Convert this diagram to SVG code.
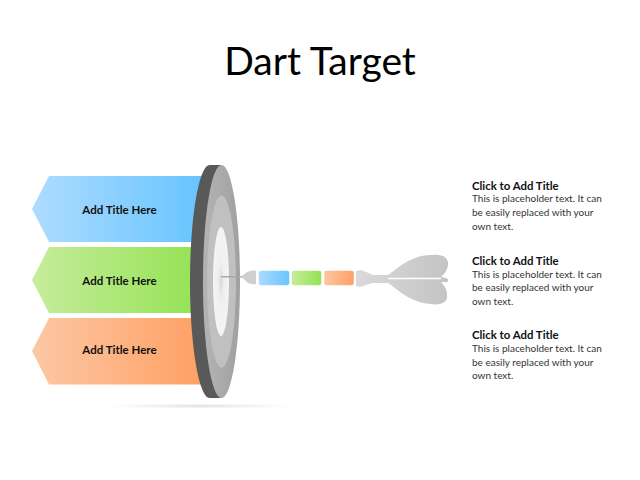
<svg xmlns="http://www.w3.org/2000/svg" width="640" height="480" viewBox="0 0 640 480">
<style>
.t{font-family:"Lato","Liberation Sans",sans-serif}
.title{font-size:39px;fill:#000;text-anchor:middle}
.lab{font-size:11.5px;font-weight:700;fill:#111;text-anchor:middle}
.h{font-size:11.4px;font-weight:700;fill:#111}
.b{font-size:10px;fill:#333}
</style>
<defs>
<linearGradient id="gb"><stop offset="0" stop-color="#aedcff"/><stop offset="1" stop-color="#66c4ff"/></linearGradient>
<linearGradient id="gg"><stop offset="0" stop-color="#c6ec9c"/><stop offset="1" stop-color="#93e252"/></linearGradient>
<linearGradient id="go"><stop offset="0" stop-color="#fcc8a4"/><stop offset="1" stop-color="#ff9f63"/></linearGradient>
<linearGradient id="gf"><stop offset="0" stop-color="#b4b4b4"/><stop offset="1" stop-color="#a0a0a0"/></linearGradient>
<linearGradient id="gs" x1="0" x2="1"><stop offset="0" stop-color="#fff"/><stop offset=".5" stop-color="#e4e4e4"/><stop offset="1" stop-color="#fff"/></linearGradient>
<radialGradient id="gc"><stop offset="0" stop-color="#d8d8d8"/><stop offset=".35" stop-color="#efefef"/><stop offset="1" stop-color="#f4f4f4"/></radialGradient>
<linearGradient id="gd"><stop offset="0" stop-color="#dadada"/><stop offset="1" stop-color="#c4c4c4"/></linearGradient>
</defs>
<text class="t title" x="320" y="75">Dart Target</text>
<g id="shadow"><rect x="110" y="404.500" width="180" height="3" fill="url(#gs)"/></g>
<g id="arrow-blue"><path d="M32 209L49 176H205V242H49Z" fill="url(#gb)"/><text class="t lab" x="119.500" y="213.500">Add Title Here</text></g>
<g id="arrow-green"><path d="M32 280L49 247H205V313H49Z" fill="url(#gg)"/><text class="t lab" x="119.500" y="284.500">Add Title Here</text></g>
<g id="arrow-orange"><path d="M32 351L49 318H205V384.500H49Z" fill="url(#go)"/><text class="t lab" x="119.500" y="354">Add Title Here</text></g>
<g id="target">
<path d="M209.500 165H221.500V398H209.500C199 398 190 346 190 281.500C190 217 199 165 209.500 165Z" fill="#595959"/>
<ellipse cx="221.500" cy="281.500" rx="18.500" ry="116.500" fill="url(#gf)"/>
<ellipse cx="221.500" cy="281.500" rx="14.500" ry="86" fill="#c0c0c0"/>
<ellipse cx="221" cy="281.500" rx="8" ry="54.500" fill="url(#gc)"/>
</g>
<g id="dart">
<path d="M221 276.800H244" stroke="#a8a8a8" stroke-width="1.500" fill="none"/>
<path d="M241 276.800L247 272Q251 270 256 270.500V284Q250 285 247 282Z" fill="#cfcfcf"/>
<rect x="258" y="270" width="32" height="16" rx="3" fill="url(#gb)" stroke="#fff" stroke-width="1.500"/>
<rect x="291" y="270" width="31" height="16" rx="3" fill="url(#gg)" stroke="#fff" stroke-width="1.500"/>
<rect x="323.500" y="270" width="31" height="16" rx="3" fill="url(#go)" stroke="#fff" stroke-width="1.500"/>
<path d="M356 271Q362 269 366 272L373 275H388C398 268 410 256 430 255Q446 253 448 262Q449 270 441 277L446 278Q449 279 448 281Q447 283 444 282L441 282Q448 289 447 298Q445 306 430 304C410 302 398 290 388 283H373L366 285Q361 288 356 286Z" fill="url(#gd)"/>
<path d="M388 278.500H441" stroke="#fff" stroke-width="1.500" fill="none"/>
</g>
<g id="text-1"><text class="t h" x="472" y="189.500">Click to Add Title</text><text class="t b" x="472" y="202">This is placeholder text. It can</text><text class="t b" x="472" y="216">be easily replaced with your</text><text class="t b" x="472" y="229.500">own text.</text></g>
<g id="text-2"><text class="t h" x="472" y="264.500">Click to Add Title</text><text class="t b" x="472" y="277.500">This is placeholder text. It can</text><text class="t b" x="472" y="291">be easily replaced with your</text><text class="t b" x="472" y="304.500">own text.</text></g>
<g id="text-3"><text class="t h" x="472" y="339">Click to Add Title</text><text class="t b" x="472" y="352">This is placeholder text. It can</text><text class="t b" x="472" y="365.500">be easily replaced with your</text><text class="t b" x="472" y="379">own text.</text></g>
</svg>
